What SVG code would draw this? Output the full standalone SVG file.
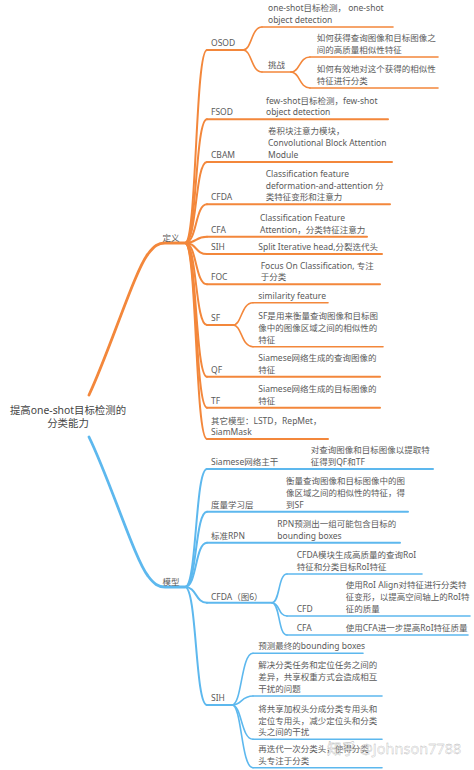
<svg xmlns="http://www.w3.org/2000/svg" width="474" height="770" viewBox="0 0 474 770">
<style>
text{font-family:"Noto Sans","Noto Sans CJK SC",sans-serif;font-size:8.5px;fill:#5a5a5a}
.root{font-size:10.4px;fill:#444;text-anchor:middle}
.mid{text-anchor:middle}
.wm{font-size:14.5px;fill:#fff;fill-opacity:.6;stroke:#9a9a9a;stroke-width:.35;stroke-opacity:.8}
path{fill:none;stroke-linecap:round}
.o{stroke:#F3873B}
.b{stroke:#5DB8EE}
.m{stroke-width:2.8}
.l1{stroke-width:2}
.l2{stroke-width:1.6}
</style>
<rect width="474" height="770" fill="#fff"/>

<g id="connectors">
  <path class="o m" d="M89 395C110 350 135 270 148 254C154 246 158 243 165 243L185 243"/>
  <path class="b m" d="M89 437C110 480 135 560 148 576C154 584 158 587 165 587L185 587"/>
  <g class="o l1">
    <path d="M185 243C197 243 195 50 207 50"/>
    <path d="M185 243C197 243 195 119.3 207 119.3"/>
    <path d="M185 243C197 243 195 162 207 162"/>
    <path d="M185 243C197 243 195 204.3 207 204.3"/>
    <path d="M185 243C197 243 195 236.7 207 236.7"/>
    <path d="M185 243C197 243 195 254 207 254"/>
    <path d="M185 243C197 243 195 284.3 207 284.3"/>
    <path d="M185 243C197 243 195 325 207 325"/>
    <path d="M185 243C197 243 195 376.7 207 376.7"/>
    <path d="M185 243C197 243 195 407.7 207 407.7"/>
    <path d="M185 243C197 243 195 439 207 439"/>
  </g>
  <g class="o l2">
    <path d="M243 50C252 50 251 27 262 27"/>
    <path d="M243 50C252 50 251 72 262 72"/>
    <path d="M291 72C300 72 299 57 310 57"/>
    <path d="M291 72C300 72 299 88 310 88"/>
    <path d="M233 325C242 325 241 302.7 253 302.7"/>
    <path d="M233 325C242 325 241 346.7 253 346.7"/>
  </g>
  <g class="b l1">
    <path d="M185 587C197 587 195 469 207 469"/>
    <path d="M185 587C197 587 195 511.7 207 511.7"/>
    <path d="M185 587C197 587 195 542.7 207 542.7"/>
    <path d="M185 587C197 587 195 602.7 207 602.7"/>
    <path d="M185 587C197 587 195 705 207 705"/>
  </g>
  <g class="b l2">
    <path d="M272 602.7C280 602.7 278 574 287 574"/>
    <path d="M272 602.7C280 602.7 278 616 287 616"/>
    <path d="M272 602.7C280 602.7 278 635 287 635"/>
    <path d="M232 705C242 705 241 653.3 253 653.3"/>
    <path d="M232 705C242 705 241 696 253 696"/>
    <path d="M232 705C242 705 241 739.3 253 739.3"/>
    <path d="M232 705C242 705 241 767.7 253 767.7"/>
  </g>
</g>

<g id="root"><text class="root" x="68" y="413.5">提高one-shot目标检测的</text><text class="root" x="68" y="427">分类能力</text></g>

<g id="def"><text class="mid" x="171" y="240.5">定义</text></g>
<g id="model"><text class="mid" x="171" y="584.5">模型</text></g>

<g id="osod"><path class="o l1" d="M207 50H243"/><text x="211" y="46">OSOD</text></g>
<g id="osod-def"><path class="o l2" d="M262 27H393"/><text x="268" y="11.2">one-shot目标检测， one-shot</text><text x="268" y="23">object detection</text></g>
<g id="osod-challenge"><path class="o l2" d="M262 72H291"/><text x="268" y="68">挑战</text></g>
<g id="challenge-1"><path class="o l2" d="M310 57H438"/><text x="316.7" y="41.2">如何获得查询图像和目标图像之</text><text x="316.7" y="53">间的高质量相似性特征</text></g>
<g id="challenge-2"><path class="o l2" d="M310 88H438"/><text x="316.7" y="72.2">如何有效地对这个获得的相似性</text><text x="316.7" y="84">特征进行分类</text></g>

<g id="fsod"><path class="o l1" d="M207 119.3H388"/><text x="211" y="115.3">FSOD</text><text x="266" y="103.5">few-shot目标检测，few-shot</text><text x="266" y="115.3">object detection</text></g>
<g id="cbam"><path class="o l1" d="M207 162H392"/><text x="211" y="158">CBAM</text><text x="268" y="134.4">卷积块注意力模块，</text><text x="268" y="146.2">Convolutional Block Attention</text><text x="268" y="158">Module</text></g>
<g id="cfda-def"><path class="o l1" d="M207 204.3H390"/><text x="211" y="200.3">CFDA</text><text x="265.7" y="176.7">Classification feature</text><text x="265.7" y="188.5">deformation-and-attention 分</text><text x="265.7" y="200.3">类特征变形和注意力</text></g>
<g id="cfa-def"><path class="o l1" d="M207 236.7H367"/><text x="211" y="232.7">CFA</text><text x="260" y="220.9">Classification Feature</text><text x="260" y="232.7">Attention，分类特征注意力</text></g>
<g id="sih-def"><path class="o l1" d="M207 254H382"/><text x="211" y="250">SIH</text><text x="258.3" y="250">Split Iterative head,分裂迭代头</text></g>
<g id="foc"><path class="o l1" d="M207 284.3H380"/><text x="211" y="280.3">FOC</text><text x="260.7" y="268.5">Focus On Classification, 专注</text><text x="260.7" y="280.3">于分类</text></g>
<g id="sf"><path class="o l1" d="M207 325H233"/><text x="211" y="321">SF</text></g>
<g id="sf-1"><path class="o l2" d="M253 302.7H328"/><text x="258.3" y="298.7">similarity feature</text></g>
<g id="sf-2"><path class="o l2" d="M253 346.7H383"/><text x="258.3" y="319.1">SF是用来衡量查询图像和目标图</text><text x="258.3" y="330.9">像中的图像区域之间的相似性的</text><text x="258.3" y="342.7">特征</text></g>
<g id="qf"><path class="o l1" d="M207 376.7H380"/><text x="211" y="372.7">QF</text><text x="258.3" y="360.9">Siamese网络生成的查询图像的</text><text x="258.3" y="372.7">特征</text></g>
<g id="tf"><path class="o l1" d="M207 407.7H380"/><text x="211" y="403.7">TF</text><text x="258.3" y="391.9">Siamese网络生成的目标图像的</text><text x="258.3" y="403.7">特征</text></g>
<g id="other"><path class="o l1" d="M207 439H328"/><text x="211" y="423.5">其它模型：LSTD，RepMet，</text><text x="211" y="435">SiamMask</text></g>

<g id="backbone"><path class="b l1" d="M207 469H433"/><text x="211" y="465">Siamese网络主干</text><text x="310.7" y="453.2">对查询图像和目标图像以提取特</text><text x="310.7" y="465">征得到QF和TF</text></g>
<g id="metric"><path class="b l1" d="M207 511.7H408"/><text x="211" y="507.7">度量学习层</text><text x="286" y="484.1">衡量查询图像和目标图像中的图</text><text x="286" y="495.9">像区域之间的相似性的特征，得</text><text x="286" y="507.7">到SF</text></g>
<g id="rpn"><path class="b l1" d="M207 542.7H400"/><text x="211" y="538.7">标准RPN</text><text x="277.3" y="526.9">RPN预测出一组可能包含目标的</text><text x="277.3" y="538.7">bounding boxes</text></g>
<g id="cfda"><path class="b l1" d="M207 602.7H272"/><text x="211" y="599.5">CFDA（图6）</text></g>
<g id="cfda-1"><path class="b l2" d="M287 574H422"/><text x="296.7" y="558.2">CFDA模块生成高质量的查询RoI</text><text x="296.7" y="570">特征和分类目标RoI特征</text></g>
<g id="cfd"><path class="b l2" d="M287 616H470"/><text x="296.7" y="612">CFD</text><text x="345.7" y="588.4">使用RoI Align对特征进行分类特</text><text x="345.7" y="600.2">征变形，以提高空间轴上的RoI特</text><text x="345.7" y="612">征的质量</text></g>
<g id="cfa"><path class="b l2" d="M287 635H468"/><text x="296.7" y="631">CFA</text><text x="345.7" y="631">使用CFA进一步提高RoI特征质量</text></g>
<g id="sih"><path class="b l1" d="M207 705H232"/><text x="211" y="701">SIH</text></g>
<g id="sih-1"><path class="b l2" d="M253 653.3H363"/><text x="258.3" y="649.3">预测最终的bounding boxes</text></g>
<g id="sih-2"><path class="b l2" d="M253 696H382"/><text x="258.3" y="668.4">解决分类任务和定位任务之间的</text><text x="258.3" y="680.2">差异，共享权重方式会造成相互</text><text x="258.3" y="692">干扰的问题</text></g>
<g id="sih-3"><path class="b l2" d="M253 739.3H382"/><text x="258.3" y="711.7">将共享加权头分成分类专用头和</text><text x="258.3" y="723.5">定位专用头，减少定位头和分类</text><text x="258.3" y="735.3">头之间的干扰</text></g>
<g id="sih-4"><path class="b l2" d="M253 767.7H382"/><text x="258.3" y="751.9">再迭代一次分类头，使得分类</text><text x="258.3" y="763.7">头专注于分类</text></g>

<text class="wm" x="327" y="754">知乎 @Johnson7788</text>
</svg>
